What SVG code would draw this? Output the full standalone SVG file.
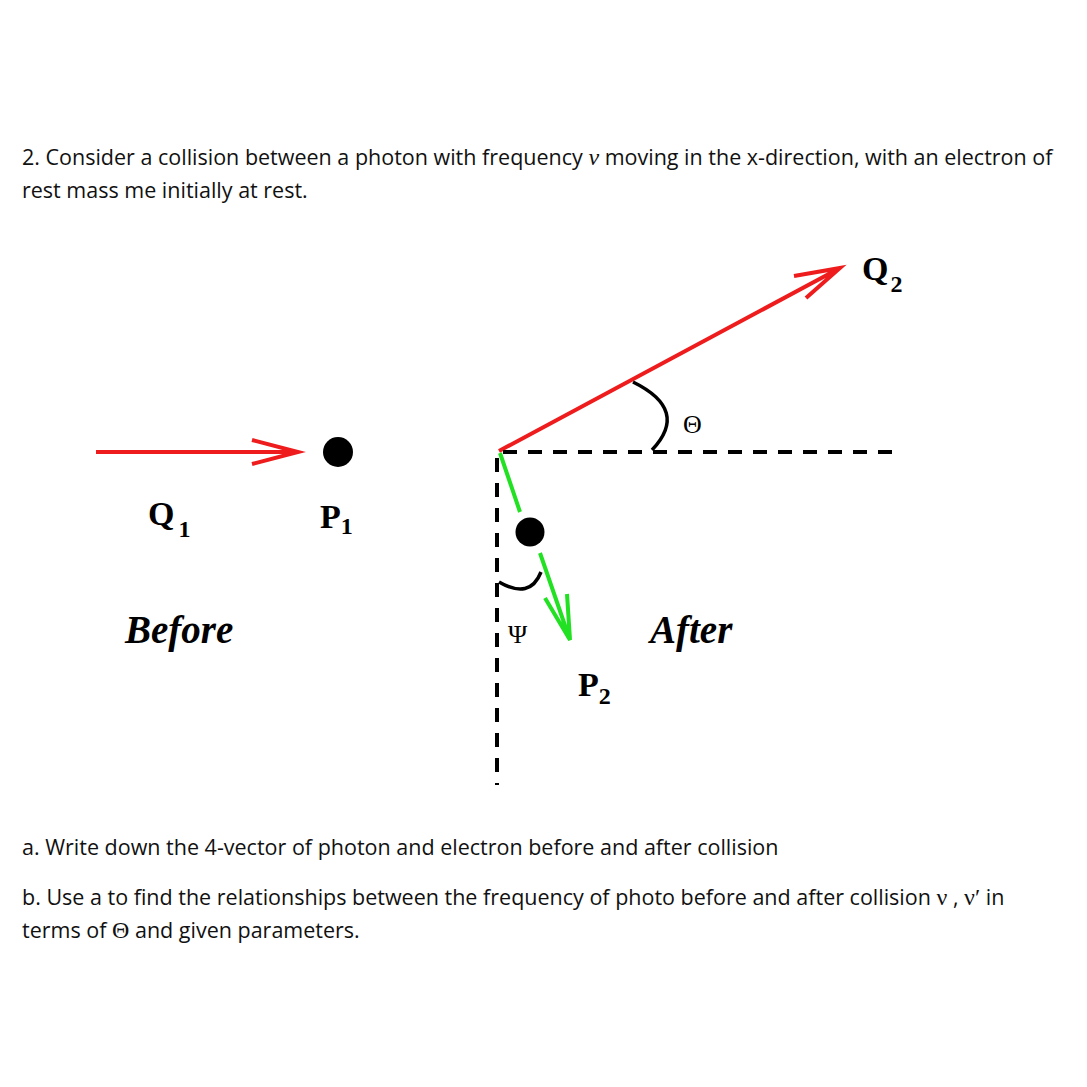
<svg xmlns="http://www.w3.org/2000/svg" width="1087" height="1087" viewBox="0 0 1087 1087">
<style>
.t{font-family:"Open Sans","Liberation Sans",sans-serif;font-size:21.5px;fill:#111}
.l{font-family:"Liberation Serif",serif;font-weight:bold;font-size:34px;fill:#000}
.s{font-size:24px}
.big{font-size:39px;font-style:italic}
.g{font-family:"Liberation Serif",serif;font-size:26px;fill:#000}
.red{stroke:#ee1c1c;stroke-width:4;fill:none}
.grn{stroke:#22e022;stroke-width:4;fill:none}
.dash{stroke:#000;stroke-width:4;stroke-dasharray:14,11;fill:none}
.arc{stroke:#000;stroke-width:3.5;fill:none}
</style>
<rect width="1087" height="1087" fill="#fff"/>
<text class="t" x="22" y="165">2. Consider a collision between a photon with frequency <tspan font-family="Liberation Serif" font-style="italic" font-size="24">ν</tspan>  moving in the x-direction, with an electron of</text>
<text class="t" x="22" y="198">rest mass me initially at rest.</text>
<g id="connectors">
<path class="red" d="M96,452H298M252,440L298,452L252,464"/>
<path class="red" d="M499,451L840,268M794,276L840,268L806,298"/>
<path class="dash" d="M503,452H892"/>
<path class="dash" d="M497,458V785"/>
<path class="grn" d="M500,453L520,512M540,553L570,640M545,598L570,640L567,594"/>
<path class="arc" d="M633,382Q690,410 652,450"/>
<path class="arc" d="M499,582Q530,600 541,572"/>
</g>
<g id="P1"><circle cx="338" cy="452" r="15" fill="#000"/><text class="l" x="320" y="528">P<tspan class="s" dy="6">1</tspan></text></g>
<g id="Q1"><text class="l" x="148" y="525">Q<tspan class="s" dy="12" dx="4">1</tspan></text></g>
<g id="electron"><circle cx="530" cy="532" r="14.5" fill="#000"/></g>
<g id="Q2"><text class="l" x="862" y="280">Q<tspan class="s" dy="12" dx="2">2</tspan></text></g>
<g id="P2"><text class="l" x="578" y="696">P<tspan class="s" dy="8">2</tspan></text></g>
<text class="g" x="683" y="433">Θ</text>
<text class="g" x="508" y="643">Ψ</text>
<text class="l big" x="125" y="643">Before</text>
<text class="l big" x="650" y="643">After</text>
<text class="t" x="22" y="855">a. Write down the 4-vector of photon and electron before and after collision</text>
<text class="t" x="22" y="905">b. Use a to find the relationships between the frequency of photo before and after collision <tspan font-family="Liberation Serif" font-size="24">ν</tspan> , <tspan font-family="Liberation Serif" font-size="24">ν′</tspan> in</text>
<text class="t" x="22" y="938">terms of <tspan font-family="Liberation Serif" font-size="24">Θ</tspan> and given parameters.</text>
</svg>
